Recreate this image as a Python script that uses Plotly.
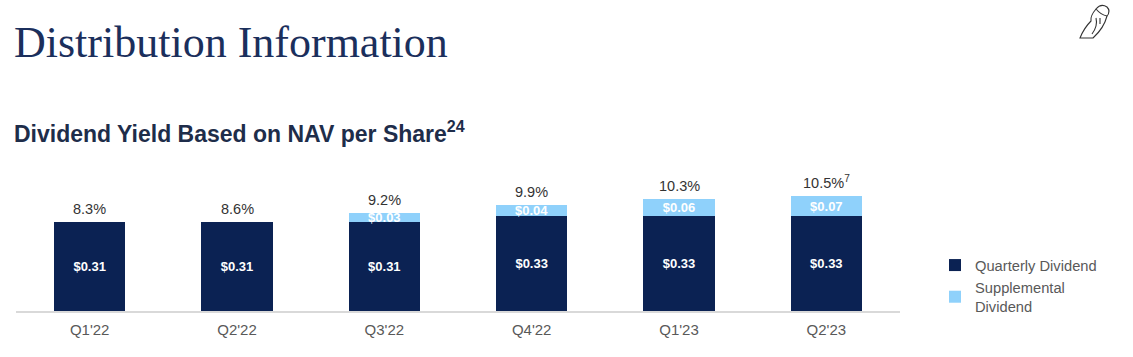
import plotly.graph_objects as go

quarters = ["Q1'22", "Q2'22", "Q3'22", "Q4'22", "Q1'23", "Q2'23"]
quarterly = [0.31, 0.31, 0.31, 0.33, 0.33, 0.33]
supplemental = [0, 0, 0.03, 0.04, 0.06, 0.07]
yields = ["8.3%", "8.6%", "9.2%", "9.9%", "10.3%", "10.5%<sup>7</sup>"]

NAVY = "#0b2253"
LIGHT = "#8fd1fb"
GRAY = "#595959"

W, H = 1133, 357
L, R, T, B = 16, 233, 170, 46
PW, PH = W - L - R, H - T - B
YMAX = 141 / 287.0


def px(x):
    return (x - L) / PW


def py(y):
    return (H - B - y) / PH


sup_x = [q for q, v in zip(quarters, supplemental) if v > 0]
sup_y = [v for v in supplemental if v > 0]

fig = go.Figure()
fig.add_trace(go.Bar(
    x=quarters, y=quarterly, name="Quarterly Dividend", legendgroup="a",
    marker=dict(color=NAVY, line=dict(width=0)),
    text=[f"${v:.2f}" for v in quarterly], textposition="inside",
    insidetextanchor="middle",
    textfont=dict(family="Liberation Sans", size=13, color="white", weight="bold"),
))
fig.add_trace(go.Bar(
    x=sup_x, y=sup_y, name="Supplemental<br>Dividend", legendgroup="b",
    marker=dict(color=LIGHT, line=dict(width=0)),
    text=[f"${v:.2f}" for v in sup_y], textposition="inside",
    insidetextanchor="middle", constraintext="none",
    textfont=dict(family="Liberation Sans", size=13, color="white", weight="bold"),
))

for q, a, b, t in zip(quarters, quarterly, supplemental, yields):
    fig.add_annotation(x=q, y=a + b, text=t, showarrow=False, yanchor="bottom",
                       yshift=3, font=dict(family="Liberation Sans", size=14.5, color="#333333"))

fig.add_annotation(xref="paper", yref="paper", x=px(12), y=py(42), xanchor="left", yanchor="middle",
                   text="Distribution Information", showarrow=False,
                   font=dict(family="Liberation Serif", size=44, color="#1b2f5c"))
fig.add_annotation(xref="paper", yref="paper", x=px(12), y=py(132), xanchor="left", yanchor="middle",
                   text="<b>Dividend Yield Based on NAV per Share<sup>24</sup></b>", showarrow=False,
                   font=dict(family="Liberation Sans", size=23, color="#1e2d4a"))

# owl logo sketch
owl_body = (f"M {px(1096)},{py(9)} Q {px(1090)},{py(16)} {px(1091)},{py(21)} "
            f"Q {px(1084)},{py(28)} {px(1080)},{py(38)} L {px(1093)},{py(38)} "
            f"Q {px(1104)},{py(28)} {px(1107)},{py(16)}")
owl_head = (f"M {px(1096)},{py(9)} Q {px(1101)},{py(3)} {px(1107)},{py(7)} "
            f"Q {px(1111)},{py(11)} {px(1107)},{py(16)} Q {px(1101)},{py(15)} {px(1096)},{py(9)} Z")
owl_wing = (f"M {px(1096)},{py(18)} Q {px(1098)},{py(26)} {px(1092)},{py(34)} "
            f"M {px(1100)},{py(18)} L {px(1100)},{py(24)}")
for p in (owl_body, owl_head, owl_wing):
    fig.add_shape(type="path", xref="paper", yref="paper", path=p,
                  line=dict(color="#333333", width=1.1), fillcolor="rgba(0,0,0,0)")

fig.update_layout(
    width=W, height=H, barmode="stack", bargap=0.518,
    margin=dict(l=L, r=R, t=T, b=B, autoexpand=False),
    paper_bgcolor="white", plot_bgcolor="white",
    showlegend=True,
    legend=dict(x=px(935), y=py(249), xanchor="left", yanchor="top",
                font=dict(family="Liberation Sans", size=14.7, color=GRAY),
                traceorder="normal", itemsizing="constant", tracegroupgap=6,
                bgcolor="rgba(0,0,0,0)"),
    xaxis=dict(showgrid=False, showline=True, linecolor="#d9d9d9", linewidth=2,
               tickfont=dict(family="Liberation Sans", size=15, color=GRAY), ticks="",
               ticklabelstandoff=4, range=[-0.5, 5.5],
               categoryorder="array", categoryarray=quarters),
    yaxis=dict(visible=False, range=[0, YMAX]),
    uniformtext=dict(minsize=8, mode="show"),
)

fig.write_html("out.html", config={"displayModeBar": False},
               post_script="document.body.style.margin='0';document.body.style.padding='0';")
